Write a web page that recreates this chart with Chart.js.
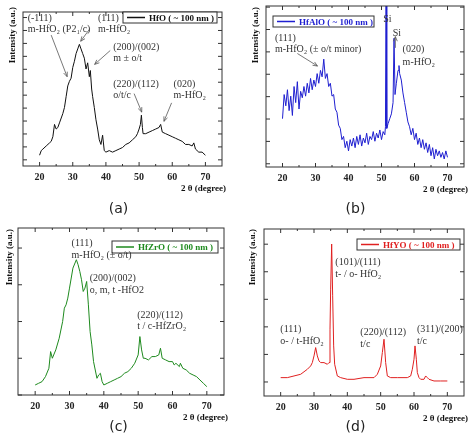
<!DOCTYPE html>
<html>
<head>
<meta charset="utf-8">
<script src="https://cdn.jsdelivr.net/npm/chart.js@4/dist/chart.umd.min.js"></script>
<style>
  body { margin: 0; background: #fff; }
  .panel { position: absolute; width: 237px; height: 222px; }
  .cap { position: absolute; width: 237px; text-align: center; font: 14px "DejaVu Sans", sans-serif; color: #222; }
</style>
</head>
<body>
<div class="panel" style="left:0;top:0"><canvas id="c1"></canvas></div>
<div class="panel" style="left:237px;top:0"><canvas id="c2"></canvas></div>
<div class="panel" style="left:0;top:222px"><canvas id="c3"></canvas></div>
<div class="panel" style="left:237px;top:222px"><canvas id="c4"></canvas></div>
<div class="cap" style="left:0;top:200px">(a)</div>
<div class="cap" style="left:237px;top:200px">(b)</div>
<div class="cap" style="left:0;top:418px">(c)</div>
<div class="cap" style="left:237px;top:418px">(d)</div>
<script>
// 2θ (degree) / intensity (a.u., 0-100 of plot height)
const hfoTheta = [20,20.5,21,22,23,23.5,24,24.5,25,25.5,26,27,27.5,28,28.5,29,29.5,30,30.5,31,31.5,32,32.5,33,33.5,34,34.5,35,35.3,35.7,36,36.5,37,37.5,38,38.5,39,39.5,40,41,42,43,44,45,46,47,48,49,49.5,50,50.4,50.7,51,51.2,52,53,54,55,56,56.5,57,58,59,60,61,62,63,64,65,66,66.5,67,68,69,70];
const hfoInt   = [7,10,11,13,15,16,19,27,24,25,28,34,38,45,52,55,57,64,68,73,76,79,76,73,70,63,67,58,62,50,45,38,30,24,17,14,20,10,9,10,9,10,11,12,14,15,17,19,21,24,27,33,25,21,21,22,23,24,25,27,22,21,20,19,18,17,16,14,14,13,15,11,9,9,7];

const hfaloTheta = [20,20.5,21,21.5,22,22.5,23,23.5,24,24.5,25,25.5,26,26.5,27,27.5,28,28.5,29,29.5,30,30.5,31,31.5,32,32.5,33,33.5,34,34.5,35,35.5,36,36.5,37,37.5,38,38.5,39,39.5,40,40.5,41,41.5,42,42.5,43,43.5,44,44.5,45,45.5,46,46.5,47,47.5,48,48.5,49,49.5,50,50.5,51,51.2,51.4,51.6,52,52.5,53,53.5,53.8,54.1,54.5,55,55.3,55.5,56,56.5,57,57.5,58,58.5,59,59.5,60,60.5,61,61.5,62,62.5,63,63.5,64,64.5,65,65.5,66,66.5,67,67.5,68,68.5,69,69.5,70];
const hfaloInt   = [30,45,38,48,35,44,32,50,40,53,36,47,43,50,44,52,46,55,48,54,50,58,52,60,56,67,55,58,50,52,44,45,36,34,26,24,17,19,12,16,10,17,13,18,12,19,14,20,13,18,15,21,14,19,17,22,16,21,18,23,17,22,20,25,130,24,27,30,33,40,80,45,52,60,63,58,54,46,40,34,28,25,20,24,17,21,14,18,12,17,11,15,9,14,7,12,5,11,7,10,6,9,5,10,6];

const hfzroTheta = [20,21,22,23,24,24.5,25,26,27,28,28.5,29,29.5,30,31,32,32.5,33,33.5,34,34.5,35,35.5,36,36.5,37,38,38.5,39,39.5,40,41,42,43,44,45,46,47,48,49,50,50.5,51,51.5,52,53,54,55,56,56.5,57,58,59,60,60.5,61,62,62.3,63,64,65,66,67,68,69,70];
const hfzroInt   = [6,7,8,11,16,26,22,27,34,44,52,54,58,64,76,81,78,74,69,62,64,68,54,38,30,20,10,12,13,8,6,7,8,9,10,11,13,14,16,19,24,35,27,22,22,21,23,23,24,28,22,21,20,20,18,19,17,19,16,15,13,12,11,9,7,5];

const hfyoTheta = [20,22,24,26,28,29,29.5,30,30.5,31,31.5,32,33,34,34.5,34.8,35,35.3,35.6,35.9,36.2,37,38,40,42,45,48,49,50,50.5,51,51.5,52,53,55,57,58,59,59.5,60,60.3,60.7,61,61.5,62,63,63.5,64,64.5,66,68,70];
const hfyoInt   = [11,11,12,13,16,18,20,24,29,24,21,20,20,19,20,40,64,91,60,30,19,12,11,10,10,11,11,13,18,26,34,20,12,11,11,11,11,12,16,22,30,22,14,11,10,10,12,11,10,9,9,9];

const xTickLabels = [20,30,40,50,60,70];
const xTickVals = [20,25,30,35,40,45,50,55,60,65,70];

function annotPlugin(cfg) {
  return {
    id: 'deco',
    afterDraw(chart) {
      const { ctx, chartArea: a, scales: { x, y } } = chart;
      ctx.save();
      // frame + inward ticks
      ctx.strokeStyle = '#333'; ctx.lineWidth = 1;
      ctx.strokeRect(a.left, a.top, a.right - a.left, a.bottom - a.top);
      xTickVals.forEach(v => {
        const px = x.getPixelForValue(v), len = v % 10 === 0 ? 4 : 2;
        ctx.beginPath(); ctx.moveTo(px, a.bottom); ctx.lineTo(px, a.bottom - len);
        ctx.moveTo(px, a.top); ctx.lineTo(px, a.top + len); ctx.stroke();
      });
      for (let v = cfg.yStart; v < 100; v += cfg.yStep) {
        const py = y.getPixelForValue(v);
        ctx.beginPath(); ctx.moveTo(a.left, py); ctx.lineTo(a.left + 4, py);
        ctx.moveTo(a.right, py); ctx.lineTo(a.right - 4, py); ctx.stroke();
      }
      // axis titles
      ctx.fillStyle = '#111';
      ctx.font = 'bold 9px "Liberation Serif"';
      ctx.textAlign = 'right'; ctx.textBaseline = 'top';
      ctx.fillText('2 θ (degree)', a.right + 4, a.bottom + 18);
      ctx.save(); ctx.translate(cfg.yTitleX, 7); ctx.rotate(-Math.PI / 2);
      ctx.textBaseline = 'middle'; ctx.fillText('Intensity (a.u.)', 0, 0); ctx.restore();
      // legend box
      const [lx, ly, lw, lh] = cfg.legendBox;
      ctx.fillStyle = '#fff'; ctx.fillRect(lx, ly, lw, lh);
      ctx.strokeStyle = '#333'; ctx.strokeRect(lx, ly, lw, lh);
      ctx.strokeStyle = cfg.color; ctx.lineWidth = 1.5;
      ctx.beginPath(); ctx.moveTo(lx + 4, ly + lh / 2); ctx.lineTo(lx + 22, ly + lh / 2); ctx.stroke();
      ctx.fillStyle = cfg.color; ctx.textAlign = 'left'; ctx.textBaseline = 'middle';
      ctx.font = 'bold 9px "Liberation Serif"';
      ctx.fillText(cfg.legend, lx + 26, ly + lh / 2 + 1);
      // annotations
      ctx.fillStyle = '#333'; ctx.font = '10px "Liberation Serif"'; ctx.textBaseline = 'top';
      cfg.texts.forEach(([t, tx, ty]) => ctx.fillText(t, x.getPixelForValue(tx), y.getPixelForValue(ty)));
      ctx.strokeStyle = '#555'; ctx.lineWidth = 0.8;
      cfg.arrows.forEach(([x1, y1, x2, y2]) => {
        const ax = x.getPixelForValue(x1), ay = y.getPixelForValue(y1);
        const bx = x.getPixelForValue(x2), by = y.getPixelForValue(y2);
        const ang = Math.atan2(by - ay, bx - ax);
        ctx.beginPath(); ctx.moveTo(ax, ay); ctx.lineTo(bx, by);
        ctx.lineTo(bx - 5 * Math.cos(ang - 0.4), by - 5 * Math.sin(ang - 0.4));
        ctx.moveTo(bx, by);
        ctx.lineTo(bx - 5 * Math.cos(ang + 0.4), by - 5 * Math.sin(ang + 0.4));
        ctx.stroke();
      });
      ctx.restore();
    }
  };
}

function makeChart(id, theta, inten, box, cfg) {
  const [l, t, r, b] = box;
  return new Chart(document.getElementById(id), {
    type: 'line',
    data: { datasets: [{ data: theta.map((v, i) => ({ x: v, y: inten[i] })), borderColor: cfg.color, borderWidth: cfg.width || 1, pointRadius: 0, tension: 0 }] },
    options: {
      responsive: false, animation: false,
      layout: { padding: { left: l, top: t, right: 237 - r, bottom: 222 - b - 18 } },
      plugins: { legend: { display: false }, tooltip: { enabled: false } },
      scales: {
        x: { type: 'linear', min: 15, max: 75,
             grid: { display: false, drawTicks: false }, border: { display: false },
             afterBuildTicks: s => { s.ticks = xTickLabels.map(v => ({ value: v })); },
             ticks: { autoSkip: false, maxRotation: 0, color: '#222', font: { family: 'Liberation Serif', size: 10, weight: 'bold' }, padding: 5 },
             afterFit: s => { s.height = 18; } },
        y: { min: 0, max: 100, display: true, grid: { display: false }, border: { display: false },
             ticks: { display: false }, afterFit: s => { s.width = 0; } }
      }
    },
    plugins: [annotPlugin(cfg)]
  });
}

['c1','c2','c3','c4'].forEach(id => { const c = document.getElementById(id); c.width = 237; c.height = 222; });

makeChart('c1', hfoTheta, hfoInt, [23, 12, 222, 166], {
  color: '#111', legend: 'HfO ( ~ 100 nm )', legendBox: [123, 12, 94, 11], yTitleX: 13, yStart: 4, yStep: 8.4,
  texts: [['(-111)', 16.4, 99], ['m-HfO₂ (P2₁/c)', 16.4, 92], ['(111)', 37.6, 99], ['m-HfO₂', 37.6, 92],
          ['(200)/(002)', 42.2, 80], ['m ± o/t', 42.2, 73], ['(220)/(112)', 42.2, 56], ['o/t/c', 42.2, 49],
          ['(020)', 60.4, 56], ['m-HfO₂', 60.4, 49]],
  arrows: [[23.5, 85, 28.3, 58], [35.1, 89, 32.4, 81], [41.3, 75, 36.6, 66], [48.5, 47, 50.8, 35], [59.8, 41, 57.5, 29]]
});
makeChart('c2', hfaloTheta, hfaloInt, [29, 6, 227, 167], {
  color: '#1f1fd0', legend: 'HfAlO ( ~ 100 nm )', legendBox: [36, 16, 101, 11], yTitleX: 19, yStart: 2, yStep: 13.9,
  texts: [['(111)', 17.7, 83], ['m-HfO₂ (± o/t minor)', 17.7, 76], ['Si', 50.5, 95], ['Si', 53.4, 86],
          ['(020)', 56.4, 76], ['m-HfO₂', 56.4, 68]],
  arrows: [[24.5, 70.5, 30.6, 62.7], [54.2, 74, 54.2, 81]]
});
makeChart('c3', hfzroTheta, hfzroInt, [18, 6, 224, 173], {
  color: '#1e8a1e', legend: 'HfZrO ( ~ 100 nm )', legendBox: [112, 19, 106, 12], yTitleX: 10, yStart: 0, yStep: 22,
  texts: [['(111)', 30.6, 93.6], ['m-HfO₂ (± o/t)', 30.6, 86.7], ['(200)/(002)', 35.9, 72.7], ['o, m, t -HfO2', 35.9, 65.7],
          ['(220)/(112)', 49.7, 50.8], ['t / c-HfZrO₂', 49.7, 43.8]],
  arrows: []
});
makeChart('c4', hfyoTheta, hfyoInt, [27, 7, 227, 174], {
  color: '#e02020', legend: 'HfYO ( ~ 100 nm )', legendBox: [120, 17, 103, 11], yTitleX: 16, yStart: 8.4, yStep: 16.5,
  texts: [['(111)', 19.9, 43], ['o- / t-HfO₂', 19.9, 36], ['(101)/(111)', 36.4, 83], ['t- / o- HfO₂', 36.4, 76],
          ['(220)/(112)', 43.9, 41], ['t/c', 43.9, 34], ['(311)/(200)', 60.9, 43], ['t/c', 60.9, 36]],
  arrows: []
});
</script>
</body>
</html>
